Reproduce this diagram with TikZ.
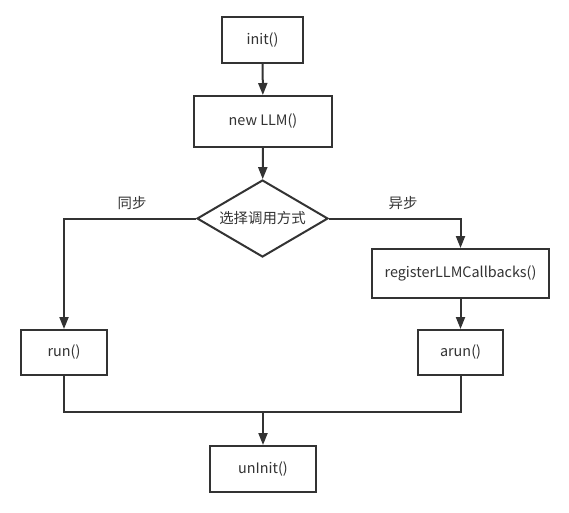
\documentclass[tikz,border=0pt]{standalone}
\usepackage{fontspec}
\setmainfont{Noto Sans CJK SC}
\usetikzlibrary{shapes.geometric,arrows.meta}
\definecolor{ln}{HTML}{333333}
\definecolor{tx}{HTML}{333333}
\tikzset{
  box/.style={draw=ln, line width=2pt, fill=white, text=tx, font=\fontsize{14.4pt}{16pt}\selectfont, inner sep=0pt},
  dec/.style={draw=ln, line width=2pt, fill=white, text=tx, diamond, font=\fontsize{14.4pt}{16pt}\selectfont, inner sep=0pt},
  conn/.style={draw=ln, line width=2pt, -{Triangle[length=12pt,width=9pt]}},
  plain/.style={draw=ln, line width=2pt},
  lab/.style={text=tx, font=\fontsize{14.4pt}{16pt}\selectfont}
}
\begin{document}
\begin{tikzpicture}[x=1pt,y=-1pt]
\useasboundingbox (0,0) rectangle (569,512);
\node[box, minimum width=81pt, minimum height=46pt] (init) at (262.5,40) {init()};
\node[box, minimum width=138pt, minimum height=51pt] (llm) at (263,121.5) {new LLM()};
\node[dec, minimum width=131pt, minimum height=77pt, aspect=1.7] (dec) at (262.5,218.5) {选择调用方式};
\node[box, minimum width=177pt, minimum height=49pt] (reg) at (460.5,273.5) {registerLLMCallbacks()};
\node[box, minimum width=86pt, minimum height=45pt] (run) at (64,352.5) {run()};
\node[box, minimum width=85pt, minimum height=45pt] (arun) at (460.5,352.5) {arun()};
\node[box, minimum width=106pt, minimum height=46pt] (uninit) at (263,469) {unInit()};
\coordinate (join) at (263,411.7);
\node[lab] (sync) at (132,203) {同步};
\node[lab] (async) at (403,203) {异步};
\draw[conn] (init) -- (llm);
\draw[conn] (llm) -- (dec);
\draw[conn] (dec.west) -| (run.north);
\draw[conn] (dec.east) -| (reg.north);
\draw[conn] (reg) -- (arun);
\draw[plain] (run.south) |- (join) -| (arun.south);
\draw[conn] (join) -- (uninit.north);
\end{tikzpicture}
\end{document}
